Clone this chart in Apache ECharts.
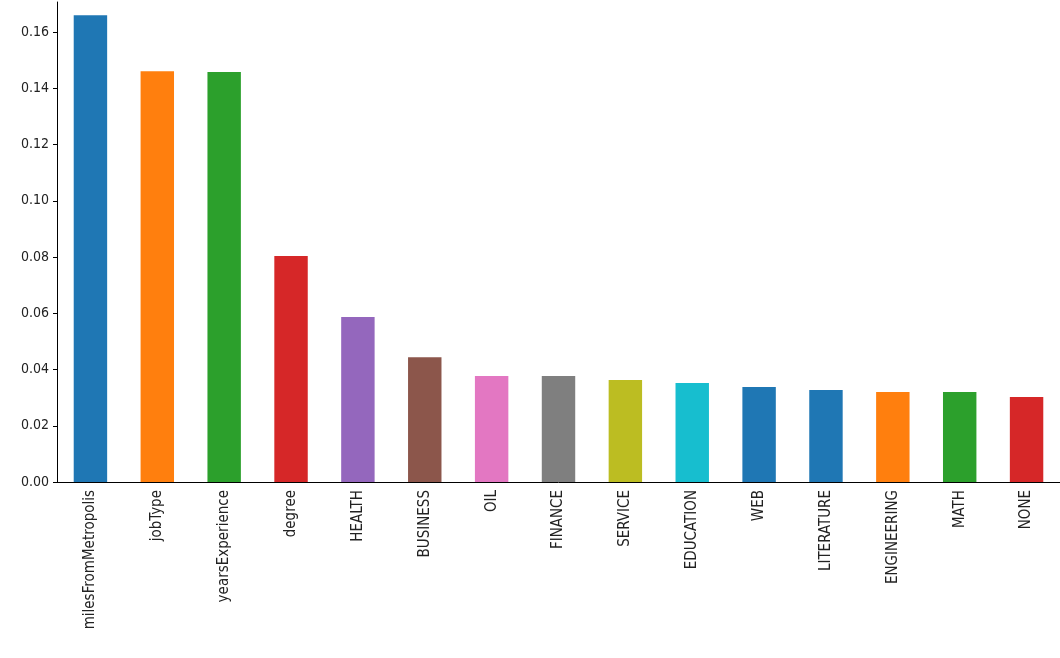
<!DOCTYPE html>
<html>
<head>
<meta charset="UTF-8">
<script src="https://cdn.jsdelivr.net/npm/echarts@6/dist/echarts.min.js"></script>
<title>feature importance</title>
</head>
<body style="margin:0;background:#fff;">
<div id="box" style="width:1060px;height:658px;"></div>
<script>
// feature names and importances
var features = ['milesFromMetropolis', 'jobType', 'yearsExperience', 'degree', 'HEALTH', 'BUSINESS', 'OIL',
    'FINANCE', 'SERVICE', 'EDUCATION', 'WEB', 'LITERATURE', 'ENGINEERING', 'MATH', 'NONE'];
var importance = [0.166, 0.1461, 0.1458, 0.0804, 0.0587, 0.0444, 0.0377,
    0.0377, 0.0363, 0.0352, 0.0338, 0.0327, 0.0320, 0.0320, 0.0302];
var barColors = ['#1f77b4', '#ff7f0e', '#2ca02c', '#d62728', '#9467bd', '#8c564b', '#e377c2',
    '#7f7f7f', '#bcbd22', '#17becf', '#1f77b4', '#1f77b4', '#ff7f0e', '#2ca02c', '#d62728'];

var mychart = echarts.init(document.getElementById('box'));

mychart.setOption({
    animation: false,
    grid: { left: 57, right: 0, top: 2, bottom: 176 },
    xAxis: {
        type: 'category',
        data: features,
        axisLine: { lineStyle: { color: '#000' } },
        axisTick: { alignWithLabel: true, length: 4, lineStyle: { color: '#000' } },
        axisLabel: { rotate: 90, margin: 8, interval: 0, color: '#222',
            fontFamily: 'DejaVu Sans Condensed', fontSize: 15 }
    },
    yAxis: {
        type: 'value',
        min: 0,
        max: 0.1707,
        interval: 0.02,
        splitLine: { show: false },
        axisLine: { show: true, lineStyle: { color: '#000' } },
        axisTick: { show: true, length: 4, lineStyle: { color: '#000' } },
        axisLabel: {
            showMaxLabel: false, color: '#222', fontFamily: 'DejaVu Sans Condensed', fontSize: 14,
            formatter: function (v) { return v.toFixed(2); }
        }
    },
    series: [{
        type: 'bar',
        barWidth: '50%',
        data: importance.map(function (v, i) {
            return { value: v, itemStyle: { color: barColors[i] } };
        })
    }]
});
</script>
</body>
</html>
